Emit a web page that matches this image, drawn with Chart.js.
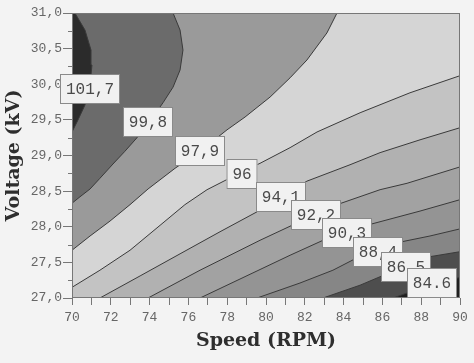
<!DOCTYPE html>
<html>
<head>
<meta charset="utf-8">
<script src="https://cdn.jsdelivr.net/npm/chart.js@4.4.0/dist/chart.umd.min.js"></script>
<style>
  html, body { margin: 0; padding: 0; background: #f3f3f3; }
</style>
</head>
<body>
<canvas id="chart" width="474" height="363"></canvas>
<script>
// axis ranges
const speedRange = [70, 90];
const voltRange = [27, 31];

// contour levels, top-left to bottom-right, as printed on the chart
const levels = [101.7, 99.8, 97.9, 96, 94.1, 92.2, 90.3, 88.4, 86.5, 84.6];
const levelText = ['101,7', '99,8', '97,9', '96', '94,1', '92,2', '90,3', '88,4', '86,5', '84.6'];

// contour lines: [speed, voltage]
const c1017 = [[70, 29.33], [70.31, 29.50], [70.67, 29.71], [70.93, 29.99], [71.03, 30.27], [70.98, 30.48], [70.67, 30.76], [70.15, 31]];
const c998 = [[70, 28.33], [70.41, 28.42], [70.93, 28.53], [71.44, 28.68], [72.11, 28.88], [72.73, 29.06], [73.35, 29.25], [74.02, 29.48], [74.69, 29.74], [75.21, 29.96], [75.57, 30.20], [75.72, 30.48], [75.57, 30.76], [75.21, 31]];
const c979 = [[70, 27.67], [70.93, 27.87], [71.96, 28.08], [72.99, 28.31], [73.92, 28.53], [75.31, 28.82], [76.60, 29.06], [77.99, 29.36], [78.92, 29.54], [80.21, 29.82], [81.24, 30.09], [82.11, 30.34], [83.14, 30.72], [83.66, 31]];
const c960 = [[70, 27.15], [71.44, 27.39], [72.99, 27.67], [74.54, 28.02], [75.82, 28.31], [76.96, 28.52], [78.76, 28.77], [79.69, 28.89], [81.24, 29.11], [82.63, 29.33], [84.85, 29.60], [87.42, 29.88], [90, 30.12]];
const c941 = [[71.44, 27], [73.51, 27.31], [75.57, 27.62], [77.63, 27.93], [79.54, 28.21], [80.82, 28.43], [82.11, 28.64], [84.33, 28.87], [85.88, 29.04], [87.94, 29.22], [90, 29.39]];
const c922 = [[73.92, 27], [76.60, 27.39], [79.69, 27.81], [81.34, 28.02], [82.58, 28.18], [83.87, 28.33], [85.88, 28.52], [87.27, 28.61], [90, 28.84]];
const c903 = [[76.60, 27], [79.54, 27.38], [81.24, 27.60], [82.94, 27.81], [84.18, 27.93], [85.46, 28.04], [87.94, 28.22], [90, 28.38]];
const c884 = [[79.54, 27], [81.75, 27.21], [83.45, 27.39], [84.59, 27.55], [85.77, 27.67], [87.01, 27.79], [88.45, 27.87], [90, 27.97]];
const c865 = [[82.94, 27], [84.85, 27.18], [85.98, 27.31], [87.22, 27.45], [88.45, 27.58], [90, 27.65]];
const c846 = [[86.55, 27], [87.27, 27.07], [88.56, 27.18], [90, 27.29]];
const contours = [c1017, c998, c979, c960, c941, c922, c903, c884, c865, c846];

// where each level label sits on its line
const labelSpeed = [70.93, 73.92, 76.60, 78.76, 80.77, 82.58, 84.18, 85.77, 87.22, 88.56];
const labelVolt = [29.93, 29.47, 29.06, 28.74, 28.42, 28.16, 27.91, 27.65, 27.44, 27.21];

// grey of the band on the high side of each line, and below the lowest one
const bandColors = ['#2b2b2b', '#6b6b6b', '#9a9a9a', '#d5d5d5', '#c3c3c3', '#b1b1b1', '#a2a2a2', '#949494', '#868686', '#4e4e4e'];
const baseColor = '#1f1f1f';

const toPts = arr => arr.map(p => ({x: p[0], y: p[1]}));
const isHalf = v => Math.abs(v * 2 - Math.round(v * 2)) < 1e-6;
const comma = v => v.toFixed(1).replace('.', ',');

// high side of a line = the line plus the top-left corners of the plot
const corners = [[speedRange[1], voltRange[1]], [speedRange[0], voltRange[1]], [speedRange[0], voltRange[0]]];
const box = [[speedRange[0], voltRange[0]], [speedRange[1], voltRange[0]], [speedRange[1], voltRange[1]], [speedRange[0], voltRange[1]]];

let datasets = [];
datasets.push({data: toPts(box), fill: 'shape', backgroundColor: baseColor, borderWidth: 0, pointRadius: 0, order: 100});
for (let i = contours.length - 1; i >= 0; i--) {
    datasets.push({
        label: String(levels[i]),
        data: toPts(contours[i].concat(corners)),
        fill: 'shape',
        backgroundColor: bandColors[i],
        borderWidth: 0,
        pointRadius: 0,
        order: 50 + i
    });
}
contours.forEach((c, i) => {
    datasets.push({data: toPts(c), fill: false, borderColor: '#3a3a3a', borderWidth: 1, pointRadius: 0, order: i});
});

const decor = {
    id: 'decor',
    afterDraw(chart) {
        const {ctx, chartArea: a, scales: {x, y}} = chart;
        ctx.save();
        ctx.strokeStyle = '#777';
        ctx.lineWidth = 1;
        ctx.strokeRect(a.left + 0.5, a.top + 0.5, a.right - a.left - 1, a.bottom - a.top - 1);
        // short ticks between the labelled voltages
        y.ticks.forEach(t => {
            if (isHalf(t.value)) return;
            const py = Math.round(y.getPixelForValue(t.value)) + 0.5;
            ctx.beginPath();
            ctx.moveTo(a.left - 4, py);
            ctx.lineTo(a.left, py);
            ctx.stroke();
        });
        // level labels
        ctx.font = '16px "Liberation Mono"';
        ctx.textAlign = 'center';
        ctx.textBaseline = 'middle';
        levelText.forEach((txt, i) => {
            const cx = Math.round(x.getPixelForValue(labelSpeed[i]));
            const cy = Math.round(y.getPixelForValue(labelVolt[i]));
            const w = Math.round(ctx.measureText(txt).width) + 12;
            const h = 30;
            ctx.fillStyle = '#f1f1f1';
            ctx.fillRect(cx - w / 2, cy - h / 2, w, h);
            ctx.strokeStyle = '#8a8a8a';
            ctx.strokeRect(cx - w / 2 + 0.5, cy - h / 2 + 0.5, w - 1, h - 1);
            ctx.fillStyle = '#4a4a4a';
            ctx.fillText(txt, cx, cy + 1);
        });
        ctx.restore();
    }
};

new Chart(document.getElementById('chart'), {
    type: 'line',
    data: {datasets: datasets},
    plugins: [decor],
    options: {
        responsive: false,
        animation: false,
        layout: {padding: {left: 0, right: 14, top: 13, bottom: 0}},
        plugins: {legend: {display: false}, tooltip: {enabled: false}},
        scales: {
            x: {
                type: 'linear',
                min: speedRange[0],
                max: speedRange[1],
                afterFit: s => { s.height = 65; },
                border: {display: false},
                grid: {drawOnChartArea: false, tickLength: 7, tickColor: '#777'},
                ticks: {
                    stepSize: 1,
                    autoSkip: false,
                    maxRotation: 0,
                    maxTicksLimit: 100,
                    padding: 5,
                    color: '#666',
                    font: {family: 'Liberation Mono', size: 13},
                    callback: v => (v % 2 === 0 ? String(v) : '')
                },
                title: {
                    display: true,
                    text: 'Speed (RPM)',
                    color: '#2e2e2e',
                    font: {family: 'DejaVu Serif', size: 19, weight: 'bold'},
                    padding: {top: 0, bottom: 11}
                }
            },
            y: {
                type: 'linear',
                min: voltRange[0],
                max: voltRange[1],
                afterFit: s => { s.width = 72; },
                border: {display: false},
                grid: {
                    drawOnChartArea: false,
                    tickLength: 9,
                    tickColor: c => (isHalf(c.tick.value) ? '#777' : 'rgba(0,0,0,0)')
                },
                ticks: {
                    stepSize: 0.25,
                    autoSkip: false,
                    maxTicksLimit: 100,
                    padding: 1,
                    color: '#666',
                    font: {family: 'Liberation Mono', size: 13},
                    callback: v => (isHalf(v) ? comma(v) : '')
                },
                title: {
                    display: true,
                    text: 'Voltage (kV)',
                    color: '#2e2e2e',
                    font: {family: 'DejaVu Serif', size: 19, weight: 'bold'},
                    padding: {top: 3, bottom: 0}
                }
            }
        }
    }
});
</script>
</body>
</html>
